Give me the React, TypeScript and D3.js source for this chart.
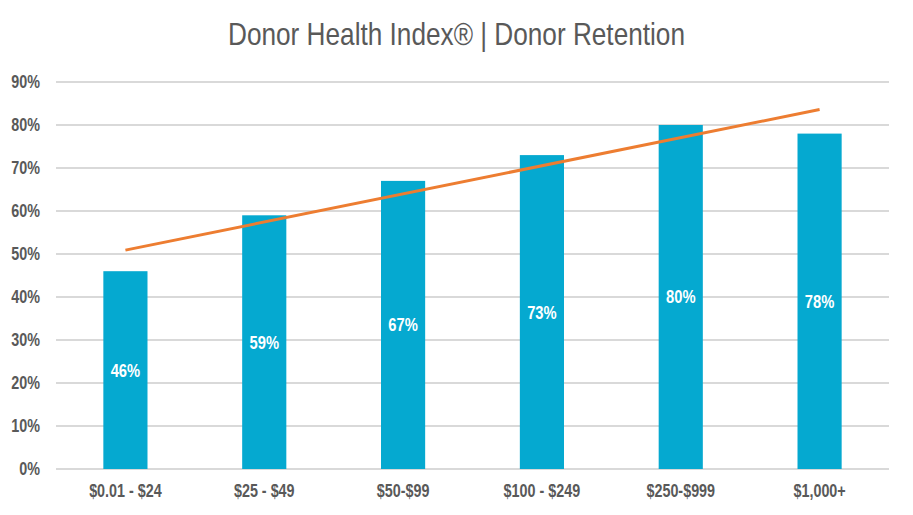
import { useEffect, useRef } from 'react';
import * as d3 from 'd3';

const categories = ['$0.01 - $24', '$25 - $49', '$50-$99', '$100 - $249', '$250-$999', '$1,000+'];
const retention = [46, 59, 67, 73, 80, 78];
// linear trend line, read at the first and last category
const trendCategories = ['$0.01 - $24', '$1,000+'];
const trendValues = [50.9, 83.6];
const yTicks = [0, 10, 20, 30, 40, 50, 60, 70, 80, 90];

const FONT = '"Liberation Sans", Arial, sans-serif';
// no narrow face installed, so squeeze the text horizontally
const NARROW = 0.82;

const App = () => {
  const svgRef = useRef<SVGSVGElement>(null);
  const width = 913;
  const height = 515;

  useEffect(() => {
    d3.select(svgRef.current).selectAll('*').remove();

    const margin = { top: 82, right: 24, bottom: 46, left: 56 };
    const chartWidth = width - margin.left - margin.right;
    const chartHeight = height - margin.top - margin.bottom;

    const root = d3.select(svgRef.current)
      .attr('width', width)
      .attr('height', height);

    root.append('rect')
      .attr('width', width)
      .attr('height', height)
      .attr('fill', '#ffffff');

    const svg = root.append('g')
      .attr('transform', `translate(${margin.left},${margin.top})`);

    const xScale = d3.scaleBand()
      .domain(categories)
      .range([0, chartWidth])
      .paddingInner(0.682)
      .paddingOuter(0.341);

    const yScale = d3.scaleLinear()
      .domain([0, 90])
      .range([chartHeight, 0]);

    // Grid lines
    svg.append('g')
      .selectAll('line')
      .data(yTicks)
      .enter()
      .append('line')
      .attr('x1', 0)
      .attr('x2', chartWidth)
      .attr('y1', d => yScale(d))
      .attr('y2', d => yScale(d))
      .attr('stroke', '#d9d9d9')
      .attr('stroke-width', 2);

    // Y axis labels
    svg.append('g')
      .selectAll('text')
      .data(yTicks)
      .enter()
      .append('text')
      .attr('transform', d => `translate(-16,${yScale(d)}) scale(${NARROW},1)`)
      .attr('dy', '0.36em')
      .attr('text-anchor', 'end')
      .attr('font-family', FONT)
      .attr('font-size', '17.5px')
      .attr('font-weight', 'bold')
      .attr('fill', '#595959')
      .text(d => `${d}%`);

    // X axis labels
    svg.append('g')
      .selectAll('text')
      .data(categories)
      .enter()
      .append('text')
      .attr('transform', d => `translate(${(xScale(d) || 0) + xScale.bandwidth() / 2},${chartHeight + 28}) scale(${NARROW},1)`)
      .attr('text-anchor', 'middle')
      .attr('font-family', FONT)
      .attr('font-size', '17.5px')
      .attr('font-weight', 'bold')
      .attr('fill', '#595959')
      .text(d => d);

    // Bars
    svg.selectAll('.bar')
      .data(retention)
      .enter()
      .append('rect')
      .attr('class', 'bar')
      .attr('x', (_, i) => xScale(categories[i]) || 0)
      .attr('y', d => yScale(d))
      .attr('width', xScale.bandwidth())
      .attr('height', d => chartHeight - yScale(d))
      .attr('fill', '#05a9d0');

    // Value labels centred in bars
    svg.selectAll('.label')
      .data(retention)
      .enter()
      .append('text')
      .attr('class', 'label')
      .attr('transform', (d, i) => `translate(${(xScale(categories[i]) || 0) + xScale.bandwidth() / 2},${(yScale(d) + chartHeight) / 2}) scale(${NARROW},1)`)
      .attr('dy', '0.36em')
      .attr('text-anchor', 'middle')
      .attr('font-family', FONT)
      .attr('font-size', '18px')
      .attr('font-weight', 'bold')
      .attr('fill', '#ffffff')
      .text(d => `${d}%`);

    // Trend line
    const line = d3.line<number>()
      .x((_, i) => (xScale(trendCategories[i]) || 0) + xScale.bandwidth() / 2)
      .y(d => yScale(d));

    svg.append('path')
      .datum(trendValues)
      .attr('d', line)
      .attr('fill', 'none')
      .attr('stroke', '#ed7d31')
      .attr('stroke-width', 3);

    // Title
    root.append('text')
      .attr('transform', `translate(${width / 2},45) scale(0.845,1)`)
      .attr('text-anchor', 'middle')
      .attr('font-family', FONT)
      .attr('font-size', '31px')
      .attr('fill', '#595959')
      .text('Donor Health Index® | Donor Retention');
  }, []);

  return (
    <div style={{ position: 'absolute', left: 0, top: 0, width, height }}>
      <svg ref={svgRef}></svg>
    </div>
  );
};

export default App;
